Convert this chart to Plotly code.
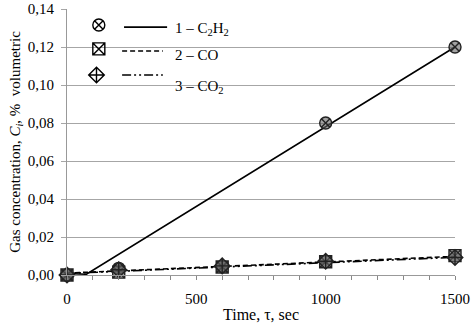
import plotly.graph_objects as go

# ---- data ----
time_s = [0, 200, 600, 1000, 1500]
c2h2 = [0.0, 0.0035, 0.0045, 0.080, 0.120]
co = [0.0, 0.0015, 0.0042, 0.0070, 0.0102]
co2 = [0.0, 0.0028, 0.0048, 0.0072, 0.0092]

fit_time_c2h2 = [0, 75, 1500]
fit_c2h2 = [0.0008, 0.0004, 0.120]
fit_time = [0, 1500]
fit_co = [0.0010, 0.0098]
fit_co2 = [0.0008, 0.0093]

labels = ["1 – C<sub>2</sub>H<sub>2</sub>", "2 – CO", "3 – CO<sub>2</sub>"]
symbols = ["circle-x", "square-x", "diamond-cross"]
dashes = ["solid", "5px,3px", "9px,3px,2px,3px,2px,3px"]

FONT = "Times New Roman, Liberation Serif, serif"

fig = go.Figure()

# trend lines
for xs, ys, d in [(fit_time_c2h2, fit_c2h2, dashes[0]),
                  (fit_time, fit_co, dashes[1]),
                  (fit_time, fit_co2, dashes[2])]:
    fig.add_trace(go.Scatter(x=xs, y=ys, mode="lines",
                             line=dict(color="black", width=1.6, dash=d),
                             showlegend=False, hoverinfo="skip"))

# data markers
for ys, sym in [(c2h2, symbols[0]), (co, symbols[1]), (co2, symbols[2])]:
    fig.add_trace(go.Scatter(x=time_s, y=ys, mode="markers", cliponaxis=False,
                             marker=dict(symbol=sym, size=12, color="rgba(100,100,100,0.6)",
                                         line=dict(width=1.4, color="#222")),
                             showlegend=False))

# legend drawn manually on an overlay axis (0..1 range)
leg_marker_x = [0.082, 0.082, 0.076]
leg_y = [0.940, 0.850, 0.752]
leg_line_y = [0.932, 0.842, 0.752]
leg_text_y = [0.926, 0.828, 0.708]
for i in range(3):
    fig.add_trace(go.Scatter(x=[leg_marker_x[i]], y=[leg_y[i]], mode="markers",
                             xaxis="x2", yaxis="y2", cliponaxis=False,
                             marker=dict(symbol=symbols[i] + "-open", size=12, color="black",
                                         line=dict(width=1.4, color="black")),
                             showlegend=False, hoverinfo="skip"))
    fig.add_shape(type="line", xref="x2", yref="y2",
                  x0=0.147 if i == 0 else 0.142, x1=0.258 if i == 0 else 0.247,
                  y0=leg_line_y[i], y1=leg_line_y[i],
                  line=dict(color="black", width=1.6, dash=dashes[i]))
    fig.add_annotation(x=0.272, y=leg_text_y[i], xref="x2", yref="y2",
                       text=labels[i], showarrow=False, xanchor="left",
                       yanchor="middle", font=dict(family=FONT, size=15, color="black"))

fig.update_layout(
    width=474, height=323,
    margin=dict(l=67, r=19, t=9, b=48),
    paper_bgcolor="white", plot_bgcolor="white",
    separators=", ",
    font=dict(family=FONT, size=15, color="black"),
    showlegend=False,
    xaxis=dict(range=[0, 1500], dtick=500, tick0=0, automargin=False,
               ticks="outside", ticklen=4, tickcolor="#888", ticklabelstandoff=6,
               minor=dict(dtick=100, ticks="outside", ticklen=4, tickcolor="#888"),
               showgrid=False, zeroline=False,
               showline=True, linecolor="#999", linewidth=1,
               title=dict(text="Time, τ, sec", standoff=3,
                          font=dict(family=FONT, size=16)),
               tickfont=dict(family=FONT, size=15)),
    yaxis=dict(range=[0, 0.14], dtick=0.02, tickformat=".2f", automargin=False,
               showgrid=True, gridcolor="#a6a6a6", gridwidth=1,
               zeroline=False, showline=True, linecolor="#999",
               ticks="outside", ticklen=5, tickcolor="#a6a6a6", ticklabelstandoff=4,
               title=dict(text="Gas concentration, <i>C</i><sub><i>i</i></sub>, %  volumetric",
                          standoff=3, font=dict(family=FONT, size=15)),
               tickfont=dict(family=FONT, size=15)),
    xaxis2=dict(overlaying="x", range=[0, 1], visible=False, fixedrange=True),
    yaxis2=dict(overlaying="y", range=[0, 1], visible=False, fixedrange=True),
)

fig.write_html("out.html")
